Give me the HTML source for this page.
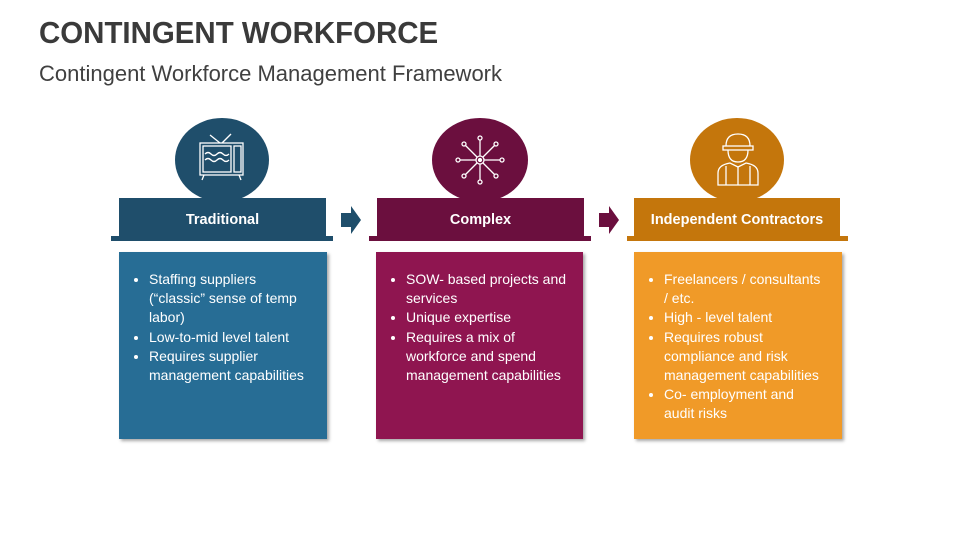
<!DOCTYPE html>
<html><head><style>
body{margin:0;width:960px;height:540px;background:#fff;font-family:"Liberation Sans",sans-serif;position:relative;overflow:hidden}
.a{position:absolute}
h1{position:absolute;left:39px;top:15px;margin:0;font-size:31px;font-weight:bold;color:#3a3a3a;transform:scaleX(0.95);transform-origin:left top;white-space:nowrap}
.sub{left:39px;top:61px;font-size:22px;color:#404040;white-space:nowrap}
.hd{color:#fff;font-weight:bold;font-size:14.5px;text-align:center;line-height:44px}
.bd{color:#fff;font-size:14px;line-height:19.2px;box-shadow:2px 2px 3px rgba(0,0,0,0.35);white-space:nowrap}
.bd ul{margin:0;padding:18px 4px 0 30px}
</style></head><body>
<h1>CONTINGENT WORKFORCE</h1>
<div class="a sub">Contingent Workforce Management Framework</div>

<div class="a" style="left:175px;top:118px;width:94px;height:84px;border-radius:50%;background:#1f4e6b"></div>
<svg class="a" style="left:195px;top:130px" width="54" height="58" viewBox="0 0 54 58" fill="none" stroke="#fff" stroke-width="1.3">
<line x1="15" y1="5" x2="25" y2="13"/><line x1="36" y1="4" x2="27" y2="13"/>
<rect x="5" y="13" width="43" height="32"/><rect x="8" y="16" width="28" height="26"/>
<path d="M10 24 q3-3 6 0 t6 0 t6 0 t6 0"/><path d="M10 30 q3-3 6 0 t6 0 t6 0 t6 0"/>
<rect x="39" y="16" width="7" height="26"/><line x1="9" y1="45" x2="7" y2="50"/><line x1="44" y1="45" x2="46" y2="50"/>
</svg>
<div class="a" style="left:111px;top:236px;width:222px;height:5px;background:#1f4e6b"></div>
<div class="a hd" style="left:119px;top:198px;width:207px;height:42px;background:#1f4e6b">Traditional</div>
<div class="a bd" style="left:119px;top:252px;width:208px;height:187px;background:#276d95"><ul>
<li>Staffing suppliers<br>(“classic” sense of temp<br>labor)</li><li>Low-to-mid level talent</li><li>Requires supplier<br>management capabilities</li></ul></div>

<svg class="a" style="left:341px;top:206px" width="20" height="28"><polygon points="0,7 10,7 10,0 20,14 10,28 10,21 0,21" fill="#1f4e6b"/></svg>

<div class="a" style="left:432px;top:118px;width:96px;height:84px;border-radius:50%;background:#6b0f3e"></div>
<svg class="a" style="left:452px;top:132px" width="56" height="56" viewBox="0 0 56 56" fill="none" stroke="#fff" stroke-width="1.3">
<circle cx="28" cy="28" r="4"/><circle cx="28" cy="28" r="1.5" fill="#fff"/>
<line x1="28" y1="24" x2="28" y2="8"/><circle cx="28" cy="6" r="2"/>
<line x1="28" y1="32" x2="28" y2="48"/><circle cx="28" cy="50" r="2"/>
<line x1="24" y1="28" x2="8" y2="28"/><circle cx="6" cy="28" r="2"/>
<line x1="32" y1="28" x2="48" y2="28"/><circle cx="50" cy="28" r="2"/>
<line x1="25" y1="25" x2="13" y2="13"/><circle cx="12" cy="12" r="2"/>
<line x1="31" y1="25" x2="43" y2="13"/><circle cx="44" cy="12" r="2"/>
<line x1="25" y1="31" x2="13" y2="43"/><circle cx="12" cy="44" r="2"/>
<line x1="31" y1="31" x2="43" y2="43"/><circle cx="44" cy="44" r="2"/>
</svg>
<div class="a" style="left:369px;top:236px;width:222px;height:5px;background:#6b0f3e"></div>
<div class="a hd" style="left:377px;top:198px;width:207px;height:42px;background:#6b0f3e">Complex</div>
<div class="a bd" style="left:376px;top:252px;width:207px;height:187px;background:#8f1550"><ul>
<li>SOW- based projects and<br>services</li><li>Unique expertise</li><li>Requires a mix of<br>workforce and spend<br>management capabilities</li></ul></div>

<svg class="a" style="left:599px;top:206px" width="20" height="28"><polygon points="0,7 10,7 10,0 20,14 10,28 10,21 0,21" fill="#6b0f3e"/></svg>

<div class="a" style="left:690px;top:118px;width:94px;height:84px;border-radius:50%;background:#c4760c"></div>
<svg class="a" style="left:710px;top:130px" width="56" height="58" viewBox="0 0 56 58" fill="none" stroke="#fff" stroke-width="1.3">
<path d="M16 16 q0-12 12-12 q12 0 12 12"/><rect x="13" y="16" width="30" height="4"/>
<path d="M18 20 q0 12 10 12 q10 0 10-12"/>
<path d="M8 55 v-12 q0-8 12-10 l8 4 l8-4 q12 2 12 10 v12 z"/><line x1="28" y1="37" x2="28" y2="55"/>
<line x1="16" y1="36" x2="16" y2="55"/><line x1="40" y1="36" x2="40" y2="55"/>
</svg>
<div class="a" style="left:627px;top:236px;width:221px;height:5px;background:#c4760c"></div>
<div class="a hd" style="left:634px;top:198px;width:206px;height:42px;background:#c4760c">Independent Contractors</div>
<div class="a bd" style="left:634px;top:252px;width:208px;height:187px;background:#f09a28"><ul>
<li>Freelancers / consultants<br>/ etc.</li><li>High - level talent</li><li>Requires robust<br>compliance and risk<br>management capabilities</li><li>Co- employment and<br>audit risks</li></ul></div>
</body></html>
